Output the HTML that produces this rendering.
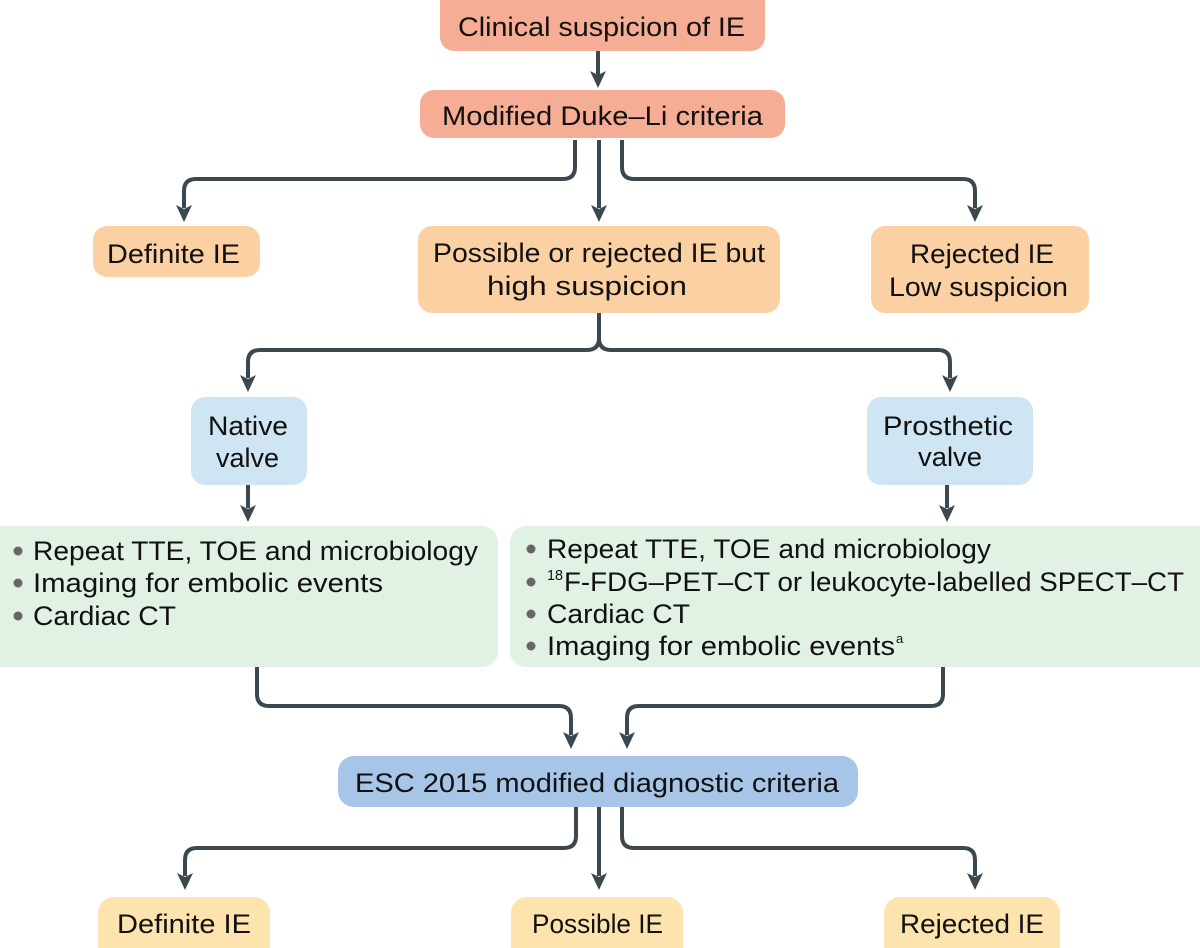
<!DOCTYPE html>
<html><head><meta charset="utf-8"><style>
html,body{margin:0;padding:0;background:#fff}
svg{display:block}
text{font-family:"Liberation Sans",sans-serif;font-size:27px;fill:#111}
</style></head><body>
<svg width="1200" height="948" viewBox="0 0 1200 948" xmlns="http://www.w3.org/2000/svg">
<g>
<rect x="440" y="-12" width="325" height="63" rx="14" fill="#f6ad96"/>
<rect x="420" y="90" width="365" height="48" rx="14" fill="#f6ad96"/>
<rect x="93" y="226" width="167" height="51" rx="14" fill="#fbd0a3"/>
<rect x="418" y="226" width="362" height="87" rx="14" fill="#fbd0a3"/>
<rect x="871" y="226" width="218" height="87" rx="14" fill="#fbd0a3"/>
<rect x="191" y="397" width="116" height="88" rx="14" fill="#cfe5f3"/>
<rect x="867" y="397" width="166" height="88" rx="14" fill="#cfe5f3"/>
<rect x="-14" y="526" width="512" height="141" rx="16" fill="#e1f1e3"/>
<rect x="510" y="526" width="704" height="141" rx="16" fill="#e1f1e3"/>
<rect x="338" y="756" width="520" height="51" rx="16" fill="#a7c5e6"/>
<rect x="98" y="897" width="172" height="70" rx="16" fill="#fde3ad"/>
<rect x="511" y="897" width="172" height="70" rx="16" fill="#fde3ad"/>
<rect x="884" y="897" width="176" height="70" rx="16" fill="#fde3ad"/>
</g>
<g fill="none" stroke="#3c484f" stroke-width="4">
<path d="M598 51 V75"/>
<path d="M575 140 V167 Q575 179 563 179 H196 Q184 179 184 191 V208"/>
<path d="M599 140 V208"/>
<path d="M622 140 V167 Q622 179 634 179 H963 Q975 179 975 191 V208"/>
<path d="M599 313 V338 Q599 350 587 350 H260 Q248 350 248 362 V378"/>
<path d="M599 338 Q599 350 611 350 H938 Q950 350 950 362 V378"/>
<path d="M248 485 V508"/>
<path d="M947 485 V508"/>
<path d="M257 667 V694 Q257 706 269 706 H559 Q571 706 571 718 V735"/>
<path d="M943 667 V694 Q943 706 931 706 H639 Q627 706 627 718 V735"/>
<path d="M576 807 V836 Q576 848 564 848 H197 Q185 848 185 860 V876"/>
<path d="M599 807 V876"/>
<path d="M622 807 V836 Q622 848 634 848 H963 Q975 848 975 860 V876"/>
</g>
<g fill="#3c484f">
<polygon points="590,71 598,75 606,71 598,88"/>
<polygon points="176,205 184,209 192,205 184,222"/>
<polygon points="591,205 599,209 607,205 599,222"/>
<polygon points="967,205 975,209 983,205 975,222"/>
<polygon points="240,375 248,379 256,375 248,392"/>
<polygon points="942,375 950,379 958,375 950,392"/>
<polygon points="240,505 248,509 256,505 248,522"/>
<polygon points="939,505 947,509 955,505 947,522"/>
<polygon points="563,732 571,736 579,732 571,749"/>
<polygon points="619,732 627,736 635,732 627,749"/>
<polygon points="177,873 185,877 193,873 185,890"/>
<polygon points="591,873 599,877 607,873 599,890"/>
<polygon points="967,873 975,877 983,873 975,890"/>
</g>
<g lengthAdjust="spacingAndGlyphs">
<text x="458" y="36" textLength="287" lengthAdjust="spacingAndGlyphs">Clinical suspicion of IE</text>
<text x="442" y="125" textLength="321" lengthAdjust="spacingAndGlyphs">Modified Duke–Li criteria</text>
<text x="107" y="263" textLength="133" lengthAdjust="spacingAndGlyphs">Definite IE</text>
<text x="433" y="262" textLength="332" lengthAdjust="spacingAndGlyphs">Possible or rejected IE but</text>
<text x="487" y="295" textLength="200" lengthAdjust="spacingAndGlyphs">high suspicion</text>
<text x="910" y="263" textLength="144" lengthAdjust="spacingAndGlyphs">Rejected IE</text>
<text x="889" y="296" textLength="179" lengthAdjust="spacingAndGlyphs">Low suspicion</text>
<text x="208" y="435" textLength="80" lengthAdjust="spacingAndGlyphs">Native</text>
<text x="216" y="467" textLength="63" lengthAdjust="spacingAndGlyphs">valve</text>
<text x="883" y="435" textLength="130" lengthAdjust="spacingAndGlyphs">Prosthetic</text>
<text x="918" y="466" textLength="64" lengthAdjust="spacingAndGlyphs">valve</text>
<text x="33" y="560" textLength="445" lengthAdjust="spacingAndGlyphs">Repeat TTE, TOE and microbiology</text>
<text x="33" y="592" textLength="350" lengthAdjust="spacingAndGlyphs">Imaging for embolic events</text>
<text x="33" y="625" textLength="143" lengthAdjust="spacingAndGlyphs">Cardiac CT</text>
<text x="547" y="558" textLength="444" lengthAdjust="spacingAndGlyphs">Repeat TTE, TOE and microbiology</text>
<text x="547" y="580" style="font-size:15px" textLength="16" lengthAdjust="spacingAndGlyphs">18</text>
<text x="564" y="591" textLength="620" lengthAdjust="spacingAndGlyphs">F-FDG–PET–CT or leukocyte-labelled SPECT–CT</text>
<text x="547" y="623" textLength="143" lengthAdjust="spacingAndGlyphs">Cardiac CT</text>
<text x="547" y="655" textLength="348" lengthAdjust="spacingAndGlyphs">Imaging for embolic events</text>
<text x="896" y="643" style="font-size:13px">a</text>
<text x="355" y="792" textLength="484" lengthAdjust="spacingAndGlyphs">ESC 2015 modified diagnostic criteria</text>
<text x="117" y="933" textLength="134" lengthAdjust="spacingAndGlyphs">Definite IE</text>
<text x="532" y="933" textLength="131" lengthAdjust="spacingAndGlyphs">Possible IE</text>
<text x="900" y="933" textLength="144" lengthAdjust="spacingAndGlyphs">Rejected IE</text>
</g>
<g fill="#666">
<circle cx="18" cy="551" r="4.5"/><circle cx="18" cy="583" r="4.5"/><circle cx="18" cy="616" r="4.5"/>
<circle cx="531" cy="549" r="4.5"/><circle cx="531" cy="582" r="4.5"/><circle cx="531" cy="614" r="4.5"/><circle cx="531" cy="646" r="4.5"/>
</g>
</svg>
</body></html>
